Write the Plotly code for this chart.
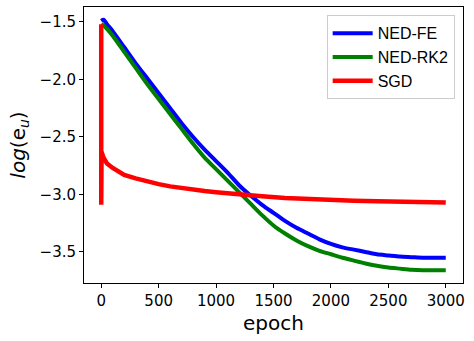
import plotly.graph_objects as go

epochs = [0, 20, 50, 100, 200, 300, 400, 500, 600, 700, 800, 900, 1000, 1100, 1200,
          1300, 1400, 1500, 1600, 1700, 1800, 1900, 2000, 2100, 2200, 2300, 2400,
          2500, 2600, 2700, 2800, 2900, 3000]
ned_fe = [-1.49, -1.48, -1.52, -1.58, -1.72, -1.86, -1.99, -2.12, -2.25, -2.38, -2.50,
          -2.61, -2.71, -2.81, -2.92, -3.01, -3.09, -3.16, -3.23, -3.29, -3.34,
          -3.39, -3.43, -3.46, -3.48, -3.50, -3.52, -3.53, -3.54, -3.545, -3.55,
          -3.55, -3.55]
ned_rk2 = [-1.52, -1.53, -1.56, -1.62, -1.76, -1.90, -2.04, -2.17, -2.30, -2.43, -2.56,
           -2.68, -2.78, -2.88, -2.98, -3.08, -3.18, -3.27, -3.34, -3.40, -3.45,
           -3.49, -3.52, -3.55, -3.575, -3.60, -3.62, -3.635, -3.645, -3.655, -3.66,
           -3.66, -3.66]
sgd_epochs = [0, 0, 3, 20, 50, 100, 150, 200, 300, 400, 500, 600, 700, 800, 900,
              1000, 1200, 1400, 1600, 1800, 2000, 2200, 2400, 2600, 2800, 3000]
sgd = [-1.52, -3.09, -2.63, -2.68, -2.73, -2.77, -2.80, -2.83, -2.86, -2.89, -2.91,
       -2.93, -2.945, -2.96, -2.97, -2.98, -3.00, -3.015, -3.03, -3.04, -3.05,
       -3.055, -3.06, -3.065, -3.065, -3.07]
x_ticks = [0, 500, 1000, 1500, 2000, 2500, 3000]
y_ticks = [-3.5, -3.0, -2.5, -2.0, -1.5]

fig = go.Figure()
fig.add_trace(go.Scatter(x=epochs, y=ned_fe, mode="lines", name="NED-FE",
                         line=dict(color="#0000ff", width=4, shape="spline", smoothing=0.6)))
fig.add_trace(go.Scatter(x=epochs, y=ned_rk2, mode="lines", name="NED-RK2",
                         line=dict(color="#008000", width=4, shape="spline", smoothing=0.6)))
fig.add_trace(go.Scatter(x=sgd_epochs, y=sgd, mode="lines", name="SGD",
                         line=dict(color="#ff0000", width=4.5)))

axis_common = dict(showline=True, linecolor="black", linewidth=1, mirror=True,
                   ticks="outside", ticklen=4, tickcolor="black", showgrid=False,
                   zeroline=False, tickfont=dict(family="DejaVu Sans", size=15, color="black"))

fig.update_layout(
    width=474, height=341,
    margin=dict(l=84, r=11, t=7, b=58),
    plot_bgcolor="white", paper_bgcolor="white",
    xaxis=dict(range=[-150, 3150], tickvals=x_ticks,
               title=dict(text="epoch", font=dict(family="DejaVu Sans", size=20, color="black"),
                          standoff=6),
               **axis_common),
    yaxis=dict(range=[-3.77, -1.37], tickvals=y_ticks, tickformat=".1f",
               title=dict(text="<i>log</i>(e<sub><i>u</i></sub>)",
                          font=dict(family="DejaVu Sans", size=20, color="black"),
                          standoff=8),
               **axis_common),
    legend=dict(x=0.978, y=0.97, xanchor="right", yanchor="top",
                bgcolor="white", bordercolor="#cccccc", borderwidth=1,
                font=dict(family="Liberation Sans", size=16, color="black"),
                itemwidth=40, tracegroupgap=0),
    showlegend=True,
)

fig.write_html("out.html")
